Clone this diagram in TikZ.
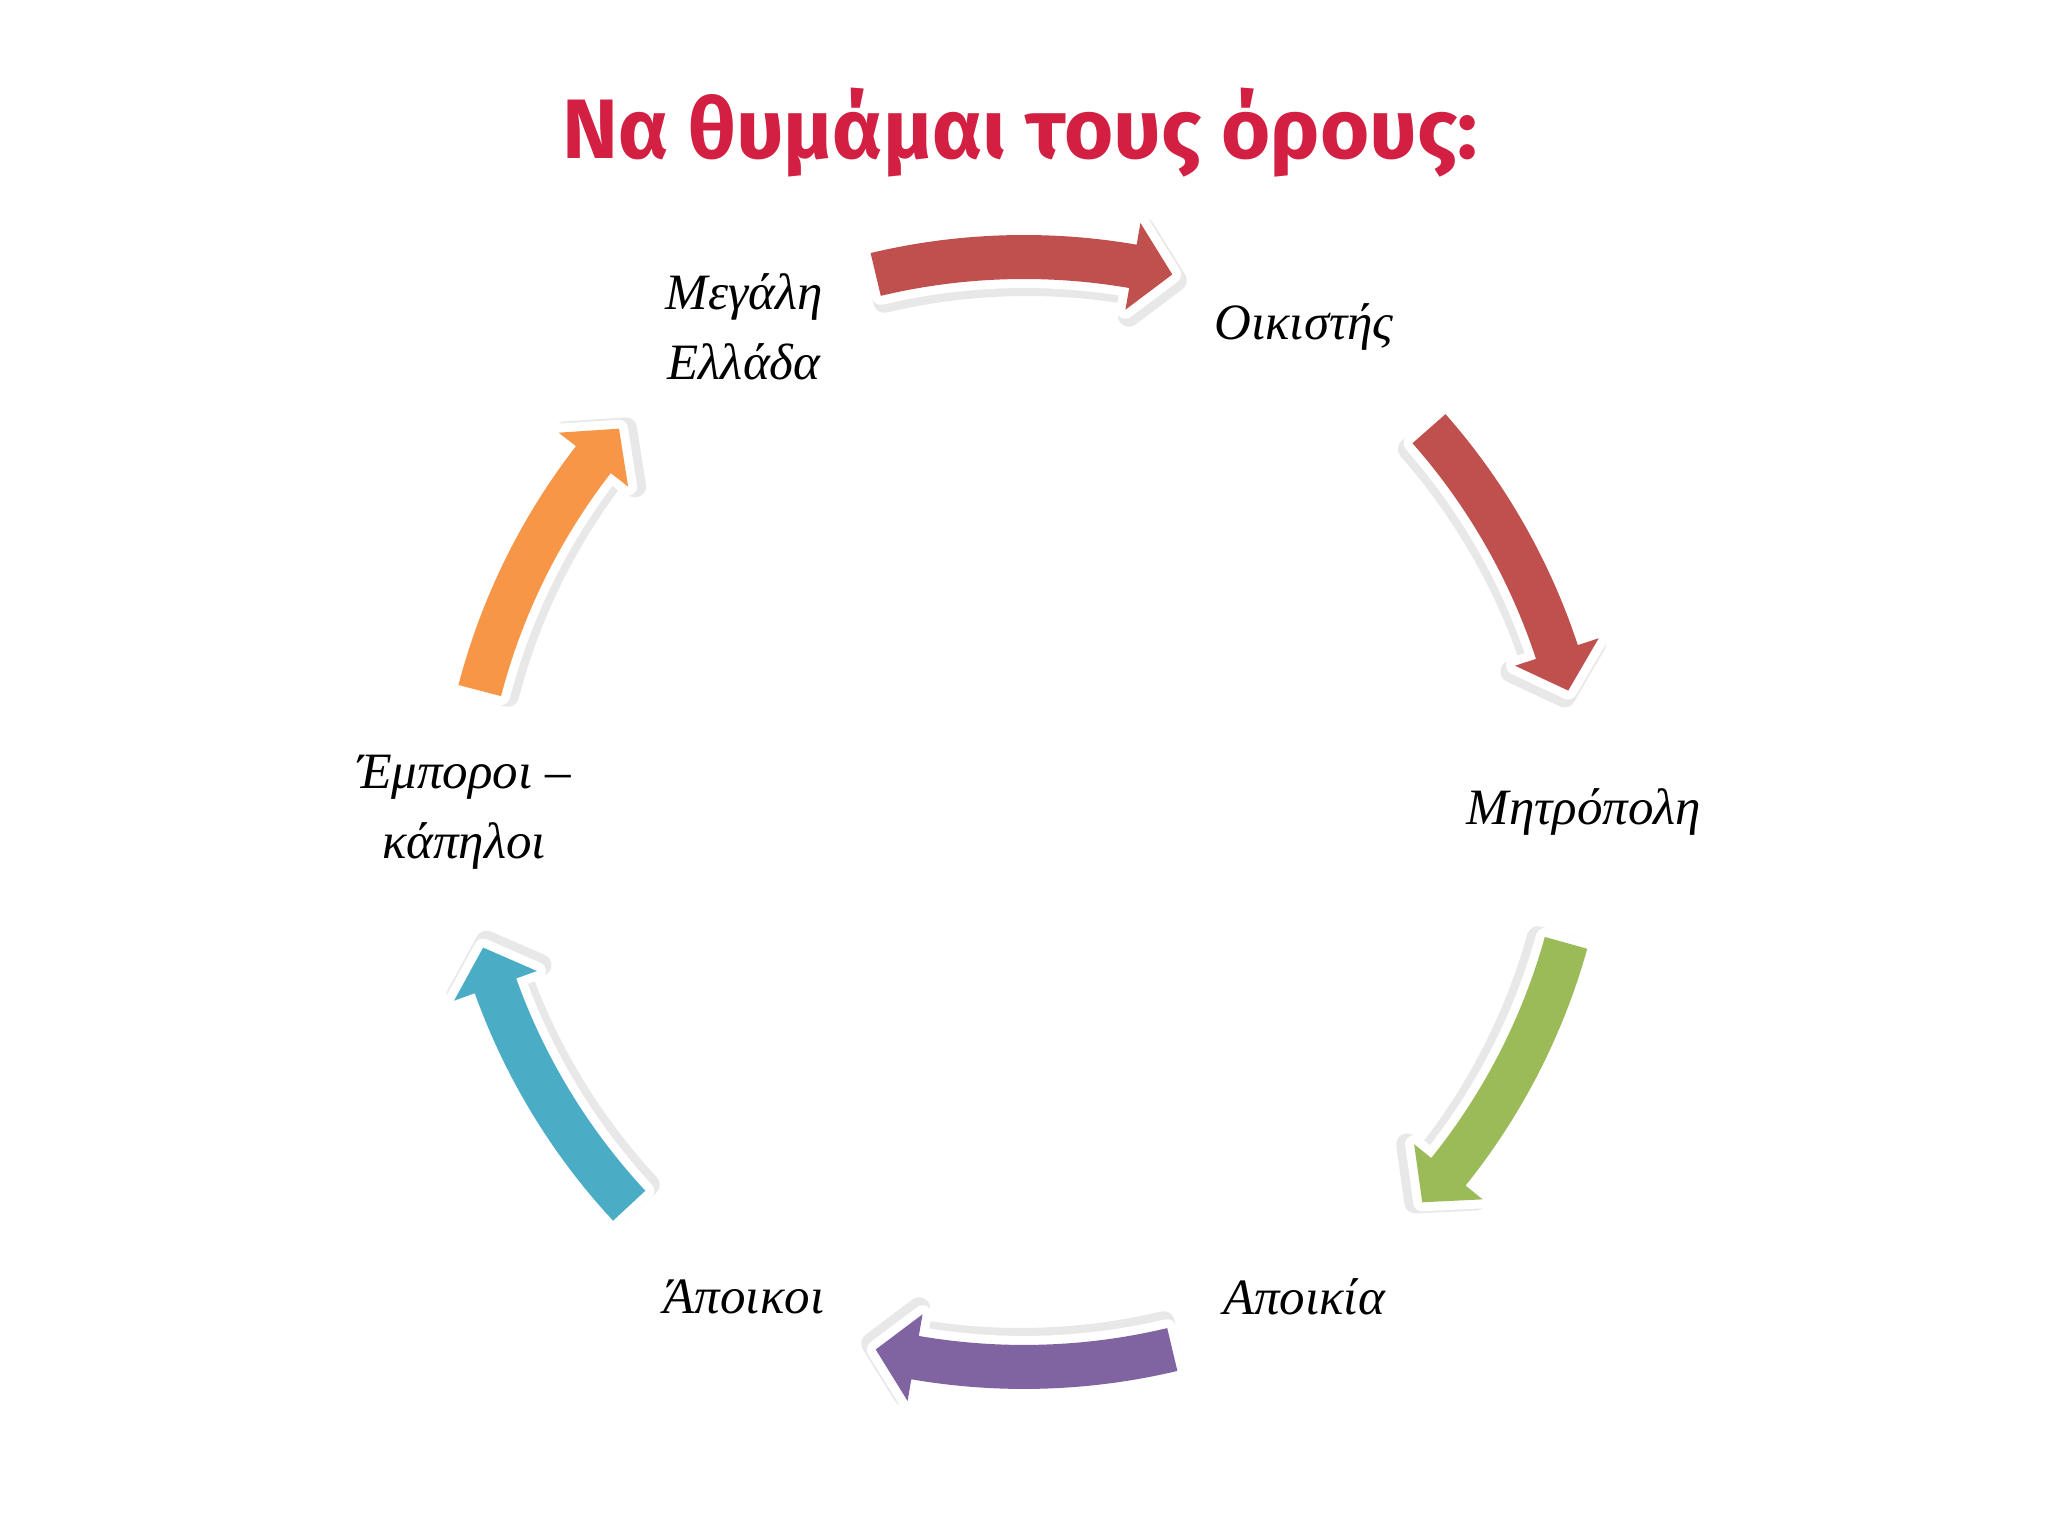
\documentclass[tikz,border=0pt]{standalone}
\usepackage{fontspec}
\setmainfont{Liberation Serif}
\newfontfamily\titlefont{Fira Sans}
\definecolor{titlered}{HTML}{D21F42}
\definecolor{arrred}{HTML}{C0504D}
\definecolor{arrgreen}{HTML}{9BBB59}
\definecolor{arrpurple}{HTML}{8064A2}
\definecolor{arrblue}{HTML}{4BACC6}
\definecolor{arrorange}{HTML}{F79646}
% outline of one curved block arrow, centred on a circle of radius 6.4
\def\cycpath{(103.4:6.62) arc[start angle=103.4, end angle=80.2, radius=6.62]
  -- (80.2:6.84) -- (76.6:6.4) -- (80.2:5.96) -- (80.2:6.18)
  arc[start angle=80.2, end angle=103.4, radius=6.18] -- cycle}
\tikzset{
  cyclelabel/.style={font=\fontsize{14.5}{20}\selectfont\itshape, align=center},
  cycarrow/.pic={
    \begin{scope}[shift={(0,-6.4)}, line join=round]
      \filldraw[fill=black!9, draw=black!9, line width=0.22cm, shift={(0.035,-0.06)}] \cycpath;
      \filldraw[fill=white, draw=white, line width=0.18cm] \cycpath;
      \fill[#1] \cycpath;
    \end{scope}
  }
}
\begin{document}
\begin{tikzpicture}
  \useasboundingbox (0,0) rectangle (20.48,15.36);

  \node[anchor=base, text=titlered, font=\titlefont\bfseries\fontsize{24}{28}\selectfont] (title) at (10.2,13.77) {Να θυμάμαι τους όρους:};

  \begin{scope}[shift={(10.24,7.24)}]
    % terms round the cycle
    \begin{scope}[every node/.style={cyclelabel}]
      \node (megali)    at (120:5.6) {Μεγάλη\\Ελλάδα};
      \node (oikistis)  at (60:5.6)  {Οικιστής};
      \node (mitropoli) at (0:5.6)   {Μητρόπολη};
      \node (apoikia)   at (-60:5.6) {Αποικία};
      \node (apoikoi)   at (-120:5.6){Άποικοι};
      \node (emporoi)   at (180:5.6) {Έμποροι –\\κάπηλοι};
    \end{scope}

    % block arrows between the terms
    \pic[rotate=0]      at (90:5.55)     {cycarrow=arrred};
    \pic[rotate=-62]    at (28:5.55)     {cycarrow=arrred};
    \pic[rotate=-119]   at (-29:5.55)    {cycarrow=arrgreen};
    \pic[rotate=180]    at (-90:5.55)    {cycarrow=arrpurple};
    \pic[rotate=119.5]  at (-150.5:5.55) {cycarrow=arrblue};
    \pic[rotate=62]     at (152:5.55)    {cycarrow=arrorange};
  \end{scope}

\end{tikzpicture}
\end{document}
